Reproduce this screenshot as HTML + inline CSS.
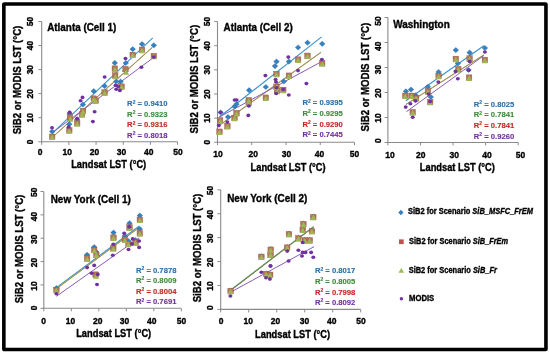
<!DOCTYPE html><html><head><meta charset="utf-8"><style>html,body{margin:0;padding:0;background:#fff;}svg{display:block;}</style></head><body>
<svg width="550" height="354" viewBox="0 0 550 354" font-family='"Liberation Sans", sans-serif'>
<defs><filter id="b" filterUnits="userSpaceOnUse" x="0" y="0" width="550" height="354"><feGaussianBlur stdDeviation="0.3"/></filter><filter id="m" filterUnits="userSpaceOnUse" x="0" y="0" width="550" height="354"><feGaussianBlur stdDeviation="0.65"/></filter></defs><rect width="550" height="354" fill="#fff"/><g filter="url(#b)">
<rect x="3.85" y="4.0" width="542.1" height="345.5" rx="0.3" fill="none" stroke="#000" stroke-width="3.6"/>
<line x1="41.70" y1="21.50" x2="41.70" y2="142.30" stroke="#8a8a8a" stroke-width="1.1"/>
<line x1="41.20" y1="141.80" x2="177.60" y2="141.80" stroke="#8a8a8a" stroke-width="1.1"/>
<line x1="38.40" y1="141.80" x2="41.70" y2="141.80" stroke="#8a8a8a" stroke-width="1.0"/>
<line x1="38.40" y1="117.74" x2="41.70" y2="117.74" stroke="#8a8a8a" stroke-width="1.0"/>
<line x1="38.40" y1="93.68" x2="41.70" y2="93.68" stroke="#8a8a8a" stroke-width="1.0"/>
<line x1="38.40" y1="69.62" x2="41.70" y2="69.62" stroke="#8a8a8a" stroke-width="1.0"/>
<line x1="38.40" y1="45.56" x2="41.70" y2="45.56" stroke="#8a8a8a" stroke-width="1.0"/>
<line x1="38.40" y1="21.50" x2="41.70" y2="21.50" stroke="#8a8a8a" stroke-width="1.0"/>
<line x1="41.70" y1="141.80" x2="41.70" y2="144.80" stroke="#8a8a8a" stroke-width="1.0"/>
<line x1="68.88" y1="141.80" x2="68.88" y2="144.80" stroke="#8a8a8a" stroke-width="1.0"/>
<line x1="96.06" y1="141.80" x2="96.06" y2="144.80" stroke="#8a8a8a" stroke-width="1.0"/>
<line x1="123.24" y1="141.80" x2="123.24" y2="144.80" stroke="#8a8a8a" stroke-width="1.0"/>
<line x1="150.42" y1="141.80" x2="150.42" y2="144.80" stroke="#8a8a8a" stroke-width="1.0"/>
<line x1="177.60" y1="141.80" x2="177.60" y2="144.80" stroke="#8a8a8a" stroke-width="1.0"/>
<text x="40.00" y="155.19" font-size="8.5" font-weight="bold" fill="#000" stroke="#000" stroke-width="0.35" text-anchor="middle" >0</text>
<text x="67.20" y="155.19" font-size="8.5" font-weight="bold" fill="#000" stroke="#000" stroke-width="0.35" text-anchor="middle" >10</text>
<text x="94.50" y="155.19" font-size="8.5" font-weight="bold" fill="#000" stroke="#000" stroke-width="0.35" text-anchor="middle" >20</text>
<text x="121.50" y="155.19" font-size="8.5" font-weight="bold" fill="#000" stroke="#000" stroke-width="0.35" text-anchor="middle" >30</text>
<text x="148.80" y="155.19" font-size="8.5" font-weight="bold" fill="#000" stroke="#000" stroke-width="0.35" text-anchor="middle" >40</text>
<text x="177.90" y="155.19" font-size="8.5" font-weight="bold" fill="#000" stroke="#000" stroke-width="0.35" text-anchor="middle" >50</text>
<text transform="translate(29.70,141.80) rotate(-90)" x="0" y="3.04" font-size="8.5" font-weight="bold" fill="#000" stroke="#000" stroke-width="0.35" text-anchor="middle">0</text>
<text transform="translate(29.70,117.74) rotate(-90)" x="0" y="3.04" font-size="8.5" font-weight="bold" fill="#000" stroke="#000" stroke-width="0.35" text-anchor="middle">10</text>
<text transform="translate(29.70,93.68) rotate(-90)" x="0" y="3.04" font-size="8.5" font-weight="bold" fill="#000" stroke="#000" stroke-width="0.35" text-anchor="middle">20</text>
<text transform="translate(29.70,69.62) rotate(-90)" x="0" y="3.04" font-size="8.5" font-weight="bold" fill="#000" stroke="#000" stroke-width="0.35" text-anchor="middle">30</text>
<text transform="translate(29.70,45.56) rotate(-90)" x="0" y="3.04" font-size="8.5" font-weight="bold" fill="#000" stroke="#000" stroke-width="0.35" text-anchor="middle">40</text>
<text transform="translate(29.70,21.50) rotate(-90)" x="0" y="3.04" font-size="8.5" font-weight="bold" fill="#000" stroke="#000" stroke-width="0.35" text-anchor="middle">50</text>
<text x="47.20" y="30.70" font-size="10.1" font-weight="bold" fill="#000" stroke="#000" stroke-width="0.35" text-anchor="start" textLength="69.2" lengthAdjust="spacingAndGlyphs" >Atlanta (Cell 1)</text>
<text x="71.20" y="168.40" font-size="10.1" font-weight="bold" fill="#000" stroke="#000" stroke-width="0.35" text-anchor="start" textLength="75" lengthAdjust="spacingAndGlyphs" >Landsat LST (°C)</text>
<text transform="translate(20.50,80.00) rotate(-90)" x="0" y="0.00" font-size="10.2" font-weight="bold" fill="#000" stroke="#000" stroke-width="0.35" text-anchor="middle" textLength="108.6" lengthAdjust="spacingAndGlyphs">SiB2 or MODIS LST (°C)</text>
<line x1="53.00" y1="132.60" x2="152.70" y2="37.90" stroke="#3894ce" stroke-width="1.15"/>
<line x1="53.00" y1="136.80" x2="152.30" y2="47.60" stroke="#b8806a" stroke-width="1.0"/>
<line x1="53.00" y1="136.60" x2="152.30" y2="47.20" stroke="#9a9f58" stroke-width="1.0"/>
<line x1="53.00" y1="132.20" x2="153.50" y2="57.50" stroke="#8a5cb4" stroke-width="1.0"/>
<g filter="url(#m)">
<path d="M52.20 129.00L55.00 131.60L52.20 134.20L49.40 131.60Z" fill="#3382c4" stroke="#1f5f95" stroke-width="0.4"/>
<path d="M69.60 110.90L72.40 113.50L69.60 116.10L66.80 113.50Z" fill="#3382c4" stroke="#1f5f95" stroke-width="0.4"/>
<path d="M69.30 121.60L72.10 124.20L69.30 126.80L66.50 124.20Z" fill="#3382c4" stroke="#1f5f95" stroke-width="0.4"/>
<path d="M77.20 116.90L80.00 119.50L77.20 122.10L74.40 119.50Z" fill="#3382c4" stroke="#1f5f95" stroke-width="0.4"/>
<path d="M82.90 102.00L85.70 104.60L82.90 107.20L80.10 104.60Z" fill="#3382c4" stroke="#1f5f95" stroke-width="0.4"/>
<path d="M93.80 88.60L96.60 91.20L93.80 93.80L91.00 91.20Z" fill="#3382c4" stroke="#1f5f95" stroke-width="0.4"/>
<path d="M104.60 83.50L107.40 86.10L104.60 88.70L101.80 86.10Z" fill="#3382c4" stroke="#1f5f95" stroke-width="0.4"/>
<path d="M114.80 60.30L117.60 62.90L114.80 65.50L112.00 62.90Z" fill="#3382c4" stroke="#1f5f95" stroke-width="0.4"/>
<path d="M116.20 78.90L119.00 81.50L116.20 84.10L113.40 81.50Z" fill="#3382c4" stroke="#1f5f95" stroke-width="0.4"/>
<path d="M120.60 79.00L123.40 81.60L120.60 84.20L117.80 81.60Z" fill="#3382c4" stroke="#1f5f95" stroke-width="0.4"/>
<path d="M125.80 60.40L128.60 63.00L125.80 65.60L123.00 63.00Z" fill="#3382c4" stroke="#1f5f95" stroke-width="0.4"/>
<path d="M132.70 46.60L135.50 49.20L132.70 51.80L129.90 49.20Z" fill="#3382c4" stroke="#1f5f95" stroke-width="0.4"/>
<path d="M142.00 41.50L144.80 44.10L142.00 46.70L139.20 44.10Z" fill="#3382c4" stroke="#1f5f95" stroke-width="0.4"/>
<path d="M153.80 42.70L156.60 45.30L153.80 47.90L151.00 45.30Z" fill="#3382c4" stroke="#1f5f95" stroke-width="0.4"/>
<rect x="49.45" y="134.05" width="5.50" height="5.50" fill="#b07656" stroke="#9a5040" stroke-width="0.4"/>
<rect x="67.15" y="114.75" width="5.50" height="5.50" fill="#b07656" stroke="#9a5040" stroke-width="0.4"/>
<rect x="66.55" y="127.65" width="5.50" height="5.50" fill="#b07656" stroke="#9a5040" stroke-width="0.4"/>
<rect x="74.45" y="120.55" width="5.50" height="5.50" fill="#b07656" stroke="#9a5040" stroke-width="0.4"/>
<rect x="80.35" y="108.25" width="5.50" height="5.50" fill="#b07656" stroke="#9a5040" stroke-width="0.4"/>
<rect x="79.25" y="111.65" width="5.50" height="5.50" fill="#b07656" stroke="#9a5040" stroke-width="0.4"/>
<rect x="91.05" y="95.85" width="5.50" height="5.50" fill="#b07656" stroke="#9a5040" stroke-width="0.4"/>
<rect x="92.95" y="97.85" width="5.50" height="5.50" fill="#b07656" stroke="#9a5040" stroke-width="0.4"/>
<rect x="101.85" y="89.75" width="5.50" height="5.50" fill="#b07656" stroke="#9a5040" stroke-width="0.4"/>
<rect x="112.05" y="65.85" width="5.50" height="5.50" fill="#b07656" stroke="#9a5040" stroke-width="0.4"/>
<rect x="112.45" y="72.75" width="5.50" height="5.50" fill="#b07656" stroke="#9a5040" stroke-width="0.4"/>
<rect x="118.85" y="83.85" width="5.50" height="5.50" fill="#b07656" stroke="#9a5040" stroke-width="0.4"/>
<rect x="122.75" y="66.35" width="5.50" height="5.50" fill="#b07656" stroke="#9a5040" stroke-width="0.4"/>
<rect x="129.95" y="52.15" width="5.50" height="5.50" fill="#b07656" stroke="#9a5040" stroke-width="0.4"/>
<rect x="139.25" y="47.05" width="5.50" height="5.50" fill="#b07656" stroke="#9a5040" stroke-width="0.4"/>
<rect x="151.05" y="53.25" width="5.50" height="5.50" fill="#b07656" stroke="#9a5040" stroke-width="0.4"/>
<path d="M52.20 134.40L55.20 140.00L49.20 140.00Z" fill="#a0b555"/>
<path d="M70.40 116.10L73.40 121.70L67.40 121.70Z" fill="#a0b555"/>
<path d="M69.30 128.00L72.30 133.60L66.30 133.60Z" fill="#a0b555"/>
<path d="M77.20 121.00L80.20 126.60L74.20 126.60Z" fill="#a0b555"/>
<path d="M83.10 108.70L86.10 114.30L80.10 114.30Z" fill="#a0b555"/>
<path d="M82.00 112.00L85.00 117.60L79.00 117.60Z" fill="#a0b555"/>
<path d="M93.80 96.50L96.80 102.10L90.80 102.10Z" fill="#a0b555"/>
<path d="M95.70 98.20L98.70 103.80L92.70 103.80Z" fill="#a0b555"/>
<path d="M104.60 90.20L107.60 95.80L101.60 95.80Z" fill="#a0b555"/>
<path d="M115.00 66.70L118.00 72.30L112.00 72.30Z" fill="#a0b555"/>
<path d="M115.50 73.70L118.50 79.30L112.50 79.30Z" fill="#a0b555"/>
<path d="M121.60 84.20L124.60 89.80L118.60 89.80Z" fill="#a0b555"/>
<path d="M126.10 69.20L129.10 74.80L123.10 74.80Z" fill="#a0b555"/>
<path d="M132.70 52.50L135.70 58.10L129.70 58.10Z" fill="#a0b555"/>
<path d="M142.00 47.70L145.00 53.30L139.00 53.30Z" fill="#a0b555"/>
<path d="M153.80 53.70L156.80 59.30L150.80 59.30Z" fill="#a0b555"/>
<ellipse cx="52.00" cy="127.70" rx="2.0" ry="1.8" fill="#7030a0"/>
<ellipse cx="69.60" cy="112.20" rx="2.0" ry="1.8" fill="#7030a0"/>
<ellipse cx="68.70" cy="127.00" rx="2.0" ry="1.8" fill="#7030a0"/>
<ellipse cx="77.20" cy="118.50" rx="2.0" ry="1.8" fill="#7030a0"/>
<ellipse cx="82.50" cy="97.40" rx="2.0" ry="1.8" fill="#7030a0"/>
<ellipse cx="80.60" cy="100.80" rx="2.0" ry="1.8" fill="#7030a0"/>
<ellipse cx="94.60" cy="111.70" rx="2.0" ry="1.8" fill="#7030a0"/>
<ellipse cx="92.90" cy="121.60" rx="2.0" ry="1.8" fill="#7030a0"/>
<ellipse cx="104.60" cy="77.00" rx="2.0" ry="1.8" fill="#7030a0"/>
<ellipse cx="115.60" cy="85.20" rx="2.0" ry="1.8" fill="#7030a0"/>
<ellipse cx="116.20" cy="89.30" rx="2.0" ry="1.8" fill="#7030a0"/>
<ellipse cx="118.20" cy="86.50" rx="2.0" ry="1.8" fill="#7030a0"/>
<ellipse cx="119.90" cy="90.40" rx="2.0" ry="1.8" fill="#7030a0"/>
<ellipse cx="125.50" cy="58.60" rx="2.0" ry="1.8" fill="#7030a0"/>
<ellipse cx="141.40" cy="67.30" rx="2.0" ry="1.8" fill="#7030a0"/>
<ellipse cx="153.80" cy="57.10" rx="2.0" ry="1.8" fill="#7030a0"/>
</g>
<text x="127.10" y="106.20" font-size="7.8" font-weight="bold" fill="#2e6fa7" stroke="#2e6fa7" stroke-width="0.12" textLength="40.4" lengthAdjust="spacingAndGlyphs">R<tspan font-size="5.0" dy="-2.7">2</tspan><tspan dy="2.7"> = 0.9410</tspan></text>
<text x="127.10" y="116.60" font-size="7.8" font-weight="bold" fill="#3f8a3c" stroke="#3f8a3c" stroke-width="0.12" textLength="40.4" lengthAdjust="spacingAndGlyphs">R<tspan font-size="5.0" dy="-2.7">2</tspan><tspan dy="2.7"> = 0.9323</tspan></text>
<text x="127.10" y="127.20" font-size="7.8" font-weight="bold" fill="#c42828" stroke="#c42828" stroke-width="0.12" textLength="40.4" lengthAdjust="spacingAndGlyphs">R<tspan font-size="5.0" dy="-2.7">2</tspan><tspan dy="2.7"> = 0.9316</tspan></text>
<text x="127.10" y="137.60" font-size="7.8" font-weight="bold" fill="#7030a0" stroke="#7030a0" stroke-width="0.12" textLength="40.4" lengthAdjust="spacingAndGlyphs">R<tspan font-size="5.0" dy="-2.7">2</tspan><tspan dy="2.7"> = 0.8018</tspan></text>
<line x1="217.50" y1="21.60" x2="217.50" y2="142.70" stroke="#8a8a8a" stroke-width="1.1"/>
<line x1="217.00" y1="142.20" x2="354.50" y2="142.20" stroke="#8a8a8a" stroke-width="1.1"/>
<line x1="214.20" y1="142.20" x2="217.50" y2="142.20" stroke="#8a8a8a" stroke-width="1.0"/>
<line x1="214.20" y1="118.08" x2="217.50" y2="118.08" stroke="#8a8a8a" stroke-width="1.0"/>
<line x1="214.20" y1="93.96" x2="217.50" y2="93.96" stroke="#8a8a8a" stroke-width="1.0"/>
<line x1="214.20" y1="69.84" x2="217.50" y2="69.84" stroke="#8a8a8a" stroke-width="1.0"/>
<line x1="214.20" y1="45.72" x2="217.50" y2="45.72" stroke="#8a8a8a" stroke-width="1.0"/>
<line x1="214.20" y1="21.60" x2="217.50" y2="21.60" stroke="#8a8a8a" stroke-width="1.0"/>
<line x1="217.50" y1="142.20" x2="217.50" y2="145.20" stroke="#8a8a8a" stroke-width="1.0"/>
<line x1="251.75" y1="142.20" x2="251.75" y2="145.20" stroke="#8a8a8a" stroke-width="1.0"/>
<line x1="286.00" y1="142.20" x2="286.00" y2="145.20" stroke="#8a8a8a" stroke-width="1.0"/>
<line x1="320.25" y1="142.20" x2="320.25" y2="145.20" stroke="#8a8a8a" stroke-width="1.0"/>
<line x1="354.50" y1="142.20" x2="354.50" y2="145.20" stroke="#8a8a8a" stroke-width="1.0"/>
<text x="218.00" y="156.64" font-size="8.5" font-weight="bold" fill="#000" stroke="#000" stroke-width="0.35" text-anchor="middle" >10</text>
<text x="253.30" y="156.64" font-size="8.5" font-weight="bold" fill="#000" stroke="#000" stroke-width="0.35" text-anchor="middle" >20</text>
<text x="286.50" y="156.64" font-size="8.5" font-weight="bold" fill="#000" stroke="#000" stroke-width="0.35" text-anchor="middle" >30</text>
<text x="319.60" y="156.64" font-size="8.5" font-weight="bold" fill="#000" stroke="#000" stroke-width="0.35" text-anchor="middle" >40</text>
<text x="354.60" y="156.64" font-size="8.5" font-weight="bold" fill="#000" stroke="#000" stroke-width="0.35" text-anchor="middle" >50</text>
<text transform="translate(207.20,142.20) rotate(-90)" x="0" y="3.04" font-size="8.5" font-weight="bold" fill="#000" stroke="#000" stroke-width="0.35" text-anchor="middle">0</text>
<text transform="translate(207.20,118.08) rotate(-90)" x="0" y="3.04" font-size="8.5" font-weight="bold" fill="#000" stroke="#000" stroke-width="0.35" text-anchor="middle">10</text>
<text transform="translate(207.20,93.96) rotate(-90)" x="0" y="3.04" font-size="8.5" font-weight="bold" fill="#000" stroke="#000" stroke-width="0.35" text-anchor="middle">20</text>
<text transform="translate(207.20,69.84) rotate(-90)" x="0" y="3.04" font-size="8.5" font-weight="bold" fill="#000" stroke="#000" stroke-width="0.35" text-anchor="middle">30</text>
<text transform="translate(207.20,45.72) rotate(-90)" x="0" y="3.04" font-size="8.5" font-weight="bold" fill="#000" stroke="#000" stroke-width="0.35" text-anchor="middle">40</text>
<text transform="translate(207.20,21.60) rotate(-90)" x="0" y="3.04" font-size="8.5" font-weight="bold" fill="#000" stroke="#000" stroke-width="0.35" text-anchor="middle">50</text>
<text x="223.60" y="31.30" font-size="10.1" font-weight="bold" fill="#000" stroke="#000" stroke-width="0.35" text-anchor="start" textLength="69.1" lengthAdjust="spacingAndGlyphs" >Atlanta (Cell 2)</text>
<text x="250.60" y="171.00" font-size="10.1" font-weight="bold" fill="#000" stroke="#000" stroke-width="0.35" text-anchor="start" textLength="75" lengthAdjust="spacingAndGlyphs" >Landsat LST (°C)</text>
<text transform="translate(197.80,79.20) rotate(-90)" x="0" y="0.00" font-size="10.2" font-weight="bold" fill="#000" stroke="#000" stroke-width="0.35" text-anchor="middle" textLength="108.6" lengthAdjust="spacingAndGlyphs">SiB2 or MODIS LST (°C)</text>
<line x1="219.50" y1="117.00" x2="321.60" y2="36.90" stroke="#3894ce" stroke-width="1.15"/>
<line x1="219.00" y1="125.80" x2="321.10" y2="52.40" stroke="#b8806a" stroke-width="1.0"/>
<line x1="219.00" y1="125.40" x2="321.10" y2="52.00" stroke="#9a9f58" stroke-width="1.0"/>
<line x1="219.00" y1="117.20" x2="320.50" y2="62.20" stroke="#8a5cb4" stroke-width="1.0"/>
<g filter="url(#m)">
<path d="M220.60 109.90L223.40 112.50L220.60 115.10L217.80 112.50Z" fill="#3382c4" stroke="#1f5f95" stroke-width="0.4"/>
<path d="M228.00 114.40L230.80 117.00L228.00 119.60L225.20 117.00Z" fill="#3382c4" stroke="#1f5f95" stroke-width="0.4"/>
<path d="M234.60 103.90L237.40 106.50L234.60 109.10L231.80 106.50Z" fill="#3382c4" stroke="#1f5f95" stroke-width="0.4"/>
<path d="M236.50 101.60L239.30 104.20L236.50 106.80L233.70 104.20Z" fill="#3382c4" stroke="#1f5f95" stroke-width="0.4"/>
<path d="M249.10 87.60L251.90 90.20L249.10 92.80L246.30 90.20Z" fill="#3382c4" stroke="#1f5f95" stroke-width="0.4"/>
<path d="M265.80 84.40L268.60 87.00L265.80 89.60L263.00 87.00Z" fill="#3382c4" stroke="#1f5f95" stroke-width="0.4"/>
<path d="M276.50 59.00L279.30 61.60L276.50 64.20L273.70 61.60Z" fill="#3382c4" stroke="#1f5f95" stroke-width="0.4"/>
<path d="M275.00 63.50L277.80 66.10L275.00 68.70L272.20 66.10Z" fill="#3382c4" stroke="#1f5f95" stroke-width="0.4"/>
<path d="M283.80 78.80L286.60 81.40L283.80 84.00L281.00 81.40Z" fill="#3382c4" stroke="#1f5f95" stroke-width="0.4"/>
<path d="M288.90 59.00L291.70 61.60L288.90 64.20L286.10 61.60Z" fill="#3382c4" stroke="#1f5f95" stroke-width="0.4"/>
<path d="M298.10 44.90L300.90 47.50L298.10 50.10L295.30 47.50Z" fill="#3382c4" stroke="#1f5f95" stroke-width="0.4"/>
<path d="M307.50 40.10L310.30 42.70L307.50 45.30L304.70 42.70Z" fill="#3382c4" stroke="#1f5f95" stroke-width="0.4"/>
<path d="M322.20 41.20L325.00 43.80L322.20 46.40L319.40 43.80Z" fill="#3382c4" stroke="#1f5f95" stroke-width="0.4"/>
<rect x="217.35" y="117.65" width="5.50" height="5.50" fill="#b07656" stroke="#9a5040" stroke-width="0.4"/>
<rect x="216.75" y="128.95" width="5.50" height="5.50" fill="#b07656" stroke="#9a5040" stroke-width="0.4"/>
<rect x="224.65" y="123.35" width="5.50" height="5.50" fill="#b07656" stroke="#9a5040" stroke-width="0.4"/>
<rect x="233.75" y="110.35" width="5.50" height="5.50" fill="#b07656" stroke="#9a5040" stroke-width="0.4"/>
<rect x="231.75" y="115.25" width="5.50" height="5.50" fill="#b07656" stroke="#9a5040" stroke-width="0.4"/>
<rect x="245.95" y="97.45" width="5.50" height="5.50" fill="#b07656" stroke="#9a5040" stroke-width="0.4"/>
<rect x="245.95" y="100.25" width="5.50" height="5.50" fill="#b07656" stroke="#9a5040" stroke-width="0.4"/>
<rect x="263.05" y="94.95" width="5.50" height="5.50" fill="#b07656" stroke="#9a5040" stroke-width="0.4"/>
<rect x="273.75" y="71.25" width="5.50" height="5.50" fill="#b07656" stroke="#9a5040" stroke-width="0.4"/>
<rect x="273.75" y="84.05" width="5.50" height="5.50" fill="#b07656" stroke="#9a5040" stroke-width="0.4"/>
<rect x="274.25" y="88.25" width="5.50" height="5.50" fill="#b07656" stroke="#9a5040" stroke-width="0.4"/>
<rect x="280.55" y="87.15" width="5.50" height="5.50" fill="#b07656" stroke="#9a5040" stroke-width="0.4"/>
<rect x="286.15" y="72.95" width="5.50" height="5.50" fill="#b07656" stroke="#9a5040" stroke-width="0.4"/>
<rect x="295.35" y="56.85" width="5.50" height="5.50" fill="#b07656" stroke="#9a5040" stroke-width="0.4"/>
<rect x="304.75" y="53.05" width="5.50" height="5.50" fill="#b07656" stroke="#9a5040" stroke-width="0.4"/>
<rect x="319.45" y="60.55" width="5.50" height="5.50" fill="#b07656" stroke="#9a5040" stroke-width="0.4"/>
<path d="M220.60 118.40L223.60 124.00L217.60 124.00Z" fill="#a0b555"/>
<path d="M219.50 129.40L222.50 135.00L216.50 135.00Z" fill="#a0b555"/>
<path d="M227.40 123.80L230.40 129.40L224.40 129.40Z" fill="#a0b555"/>
<path d="M236.50 110.80L239.50 116.40L233.50 116.40Z" fill="#a0b555"/>
<path d="M234.50 115.70L237.50 121.30L231.50 121.30Z" fill="#a0b555"/>
<path d="M248.70 97.90L251.70 103.50L245.70 103.50Z" fill="#a0b555"/>
<path d="M248.70 100.70L251.70 106.30L245.70 106.30Z" fill="#a0b555"/>
<path d="M265.80 95.40L268.80 101.00L262.80 101.00Z" fill="#a0b555"/>
<path d="M276.50 71.70L279.50 77.30L273.50 77.30Z" fill="#a0b555"/>
<path d="M276.50 84.50L279.50 90.10L273.50 90.10Z" fill="#a0b555"/>
<path d="M277.00 88.70L280.00 94.30L274.00 94.30Z" fill="#a0b555"/>
<path d="M283.30 87.60L286.30 93.20L280.30 93.20Z" fill="#a0b555"/>
<path d="M288.90 73.40L291.90 79.00L285.90 79.00Z" fill="#a0b555"/>
<path d="M298.10 57.30L301.10 62.90L295.10 62.90Z" fill="#a0b555"/>
<path d="M307.50 53.50L310.50 59.10L304.50 59.10Z" fill="#a0b555"/>
<path d="M322.20 61.00L325.20 66.60L319.20 66.60Z" fill="#a0b555"/>
<ellipse cx="220.60" cy="112.20" rx="2.0" ry="1.8" fill="#7030a0"/>
<ellipse cx="218.80" cy="125.60" rx="2.0" ry="1.8" fill="#7030a0"/>
<ellipse cx="227.40" cy="122.10" rx="2.0" ry="1.8" fill="#7030a0"/>
<ellipse cx="234.60" cy="100.00" rx="2.0" ry="1.8" fill="#7030a0"/>
<ellipse cx="236.60" cy="100.00" rx="2.0" ry="1.8" fill="#7030a0"/>
<ellipse cx="248.90" cy="106.00" rx="2.0" ry="1.8" fill="#7030a0"/>
<ellipse cx="248.30" cy="115.40" rx="2.0" ry="1.8" fill="#7030a0"/>
<ellipse cx="265.40" cy="75.60" rx="2.0" ry="1.8" fill="#7030a0"/>
<ellipse cx="275.60" cy="79.60" rx="2.0" ry="1.8" fill="#7030a0"/>
<ellipse cx="276.00" cy="82.00" rx="2.0" ry="1.8" fill="#7030a0"/>
<ellipse cx="276.50" cy="87.80" rx="2.0" ry="1.8" fill="#7030a0"/>
<ellipse cx="276.20" cy="93.50" rx="2.0" ry="1.8" fill="#7030a0"/>
<ellipse cx="283.30" cy="89.60" rx="2.0" ry="1.8" fill="#7030a0"/>
<ellipse cx="288.80" cy="95.00" rx="2.0" ry="1.8" fill="#7030a0"/>
<ellipse cx="288.30" cy="57.10" rx="2.0" ry="1.8" fill="#7030a0"/>
<ellipse cx="298.00" cy="70.60" rx="2.0" ry="1.8" fill="#7030a0"/>
<ellipse cx="306.40" cy="83.60" rx="2.0" ry="1.8" fill="#7030a0"/>
<ellipse cx="321.90" cy="59.60" rx="2.0" ry="1.8" fill="#7030a0"/>
</g>
<text x="302.40" y="105.40" font-size="7.8" font-weight="bold" fill="#2e6fa7" stroke="#2e6fa7" stroke-width="0.12" textLength="40.4" lengthAdjust="spacingAndGlyphs">R<tspan font-size="5.0" dy="-2.7">2</tspan><tspan dy="2.7"> = 0.9395</tspan></text>
<text x="302.40" y="116.00" font-size="7.8" font-weight="bold" fill="#3f8a3c" stroke="#3f8a3c" stroke-width="0.12" textLength="40.4" lengthAdjust="spacingAndGlyphs">R<tspan font-size="5.0" dy="-2.7">2</tspan><tspan dy="2.7"> = 0.9295</tspan></text>
<text x="302.40" y="126.80" font-size="7.8" font-weight="bold" fill="#c42828" stroke="#c42828" stroke-width="0.12" textLength="40.4" lengthAdjust="spacingAndGlyphs">R<tspan font-size="5.0" dy="-2.7">2</tspan><tspan dy="2.7"> = 0.9290</tspan></text>
<text x="302.40" y="137.30" font-size="7.8" font-weight="bold" fill="#7030a0" stroke="#7030a0" stroke-width="0.12" textLength="40.4" lengthAdjust="spacingAndGlyphs">R<tspan font-size="5.0" dy="-2.7">2</tspan><tspan dy="2.7"> = 0.7445</tspan></text>
<line x1="387.90" y1="17.50" x2="387.90" y2="143.00" stroke="#8a8a8a" stroke-width="1.1"/>
<line x1="387.40" y1="142.50" x2="518.20" y2="142.50" stroke="#8a8a8a" stroke-width="1.1"/>
<line x1="384.60" y1="142.50" x2="387.90" y2="142.50" stroke="#8a8a8a" stroke-width="1.0"/>
<line x1="384.60" y1="117.50" x2="387.90" y2="117.50" stroke="#8a8a8a" stroke-width="1.0"/>
<line x1="384.60" y1="92.50" x2="387.90" y2="92.50" stroke="#8a8a8a" stroke-width="1.0"/>
<line x1="384.60" y1="67.50" x2="387.90" y2="67.50" stroke="#8a8a8a" stroke-width="1.0"/>
<line x1="384.60" y1="42.50" x2="387.90" y2="42.50" stroke="#8a8a8a" stroke-width="1.0"/>
<line x1="384.60" y1="17.50" x2="387.90" y2="17.50" stroke="#8a8a8a" stroke-width="1.0"/>
<line x1="387.90" y1="142.50" x2="387.90" y2="145.50" stroke="#8a8a8a" stroke-width="1.0"/>
<line x1="420.48" y1="142.50" x2="420.48" y2="145.50" stroke="#8a8a8a" stroke-width="1.0"/>
<line x1="453.05" y1="142.50" x2="453.05" y2="145.50" stroke="#8a8a8a" stroke-width="1.0"/>
<line x1="485.62" y1="142.50" x2="485.62" y2="145.50" stroke="#8a8a8a" stroke-width="1.0"/>
<line x1="518.20" y1="142.50" x2="518.20" y2="145.50" stroke="#8a8a8a" stroke-width="1.0"/>
<text x="389.90" y="158.24" font-size="8.5" font-weight="bold" fill="#000" stroke="#000" stroke-width="0.35" text-anchor="middle" >10</text>
<text x="420.80" y="158.24" font-size="8.5" font-weight="bold" fill="#000" stroke="#000" stroke-width="0.35" text-anchor="middle" >20</text>
<text x="454.20" y="158.24" font-size="8.5" font-weight="bold" fill="#000" stroke="#000" stroke-width="0.35" text-anchor="middle" >30</text>
<text x="486.90" y="158.24" font-size="8.5" font-weight="bold" fill="#000" stroke="#000" stroke-width="0.35" text-anchor="middle" >40</text>
<text x="520.40" y="158.24" font-size="8.5" font-weight="bold" fill="#000" stroke="#000" stroke-width="0.35" text-anchor="middle" >50</text>
<text transform="translate(378.40,140.60) rotate(-90)" x="0" y="3.04" font-size="8.5" font-weight="bold" fill="#000" stroke="#000" stroke-width="0.35" text-anchor="middle">0</text>
<text transform="translate(378.40,118.00) rotate(-90)" x="0" y="3.04" font-size="8.5" font-weight="bold" fill="#000" stroke="#000" stroke-width="0.35" text-anchor="middle">10</text>
<text transform="translate(378.40,93.00) rotate(-90)" x="0" y="3.04" font-size="8.5" font-weight="bold" fill="#000" stroke="#000" stroke-width="0.35" text-anchor="middle">20</text>
<text transform="translate(378.40,69.60) rotate(-90)" x="0" y="3.04" font-size="8.5" font-weight="bold" fill="#000" stroke="#000" stroke-width="0.35" text-anchor="middle">30</text>
<text transform="translate(378.40,46.20) rotate(-90)" x="0" y="3.04" font-size="8.5" font-weight="bold" fill="#000" stroke="#000" stroke-width="0.35" text-anchor="middle">40</text>
<text transform="translate(378.40,21.10) rotate(-90)" x="0" y="3.04" font-size="8.5" font-weight="bold" fill="#000" stroke="#000" stroke-width="0.35" text-anchor="middle">50</text>
<text x="393.20" y="27.60" font-size="10.1" font-weight="bold" fill="#000" stroke="#000" stroke-width="0.35" text-anchor="start" textLength="56.6" lengthAdjust="spacingAndGlyphs" >Washington</text>
<text x="419.80" y="171.40" font-size="10.1" font-weight="bold" fill="#000" stroke="#000" stroke-width="0.35" text-anchor="start" textLength="75" lengthAdjust="spacingAndGlyphs" >Landsat LST (°C)</text>
<text transform="translate(369.00,77.10) rotate(-90)" x="0" y="0.00" font-size="10.2" font-weight="bold" fill="#000" stroke="#000" stroke-width="0.35" text-anchor="middle" textLength="108.6" lengthAdjust="spacingAndGlyphs">SiB2 or MODIS LST (°C)</text>
<line x1="405.90" y1="100.80" x2="483.80" y2="45.70" stroke="#3894ce" stroke-width="1.15"/>
<line x1="405.90" y1="104.60" x2="483.80" y2="55.20" stroke="#b8806a" stroke-width="1.0"/>
<line x1="405.90" y1="104.30" x2="483.80" y2="54.80" stroke="#9a9f58" stroke-width="1.0"/>
<line x1="406.40" y1="111.70" x2="483.80" y2="55.60" stroke="#8a5cb4" stroke-width="1.0"/>
<g filter="url(#m)">
<path d="M405.90 88.70L408.70 91.30L405.90 93.90L403.10 91.30Z" fill="#3382c4" stroke="#1f5f95" stroke-width="0.4"/>
<path d="M411.00 87.00L413.80 89.60L411.00 92.20L408.20 89.60Z" fill="#3382c4" stroke="#1f5f95" stroke-width="0.4"/>
<path d="M415.50 92.70L418.30 95.30L415.50 97.90L412.70 95.30Z" fill="#3382c4" stroke="#1f5f95" stroke-width="0.4"/>
<path d="M427.90 84.20L430.70 86.80L427.90 89.40L425.10 86.80Z" fill="#3382c4" stroke="#1f5f95" stroke-width="0.4"/>
<path d="M430.80 94.40L433.60 97.00L430.80 99.60L428.00 97.00Z" fill="#3382c4" stroke="#1f5f95" stroke-width="0.4"/>
<path d="M438.60 69.40L441.40 72.00L438.60 74.60L435.80 72.00Z" fill="#3382c4" stroke="#1f5f95" stroke-width="0.4"/>
<path d="M455.80 47.50L458.60 50.10L455.80 52.70L453.00 50.10Z" fill="#3382c4" stroke="#1f5f95" stroke-width="0.4"/>
<path d="M457.80 60.90L460.60 63.50L457.80 66.10L455.00 63.50Z" fill="#3382c4" stroke="#1f5f95" stroke-width="0.4"/>
<path d="M469.60 50.00L472.40 52.60L469.60 55.20L466.80 52.60Z" fill="#3382c4" stroke="#1f5f95" stroke-width="0.4"/>
<path d="M468.60 67.40L471.40 70.00L468.60 72.60L465.80 70.00Z" fill="#3382c4" stroke="#1f5f95" stroke-width="0.4"/>
<path d="M484.90 45.40L487.70 48.00L484.90 50.60L482.10 48.00Z" fill="#3382c4" stroke="#1f5f95" stroke-width="0.4"/>
<rect x="402.55" y="93.05" width="5.50" height="5.50" fill="#b07656" stroke="#9a5040" stroke-width="0.4"/>
<rect x="408.85" y="93.05" width="5.50" height="5.50" fill="#b07656" stroke="#9a5040" stroke-width="0.4"/>
<rect x="413.35" y="95.35" width="5.50" height="5.50" fill="#b07656" stroke="#9a5040" stroke-width="0.4"/>
<rect x="409.95" y="109.45" width="5.50" height="5.50" fill="#b07656" stroke="#9a5040" stroke-width="0.4"/>
<rect x="425.15" y="88.55" width="5.50" height="5.50" fill="#b07656" stroke="#9a5040" stroke-width="0.4"/>
<rect x="427.45" y="99.25" width="5.50" height="5.50" fill="#b07656" stroke="#9a5040" stroke-width="0.4"/>
<rect x="435.85" y="73.15" width="5.50" height="5.50" fill="#b07656" stroke="#9a5040" stroke-width="0.4"/>
<rect x="453.05" y="56.15" width="5.50" height="5.50" fill="#b07656" stroke="#9a5040" stroke-width="0.4"/>
<rect x="455.55" y="66.35" width="5.50" height="5.50" fill="#b07656" stroke="#9a5040" stroke-width="0.4"/>
<rect x="466.85" y="55.75" width="5.50" height="5.50" fill="#b07656" stroke="#9a5040" stroke-width="0.4"/>
<rect x="466.35" y="74.85" width="5.50" height="5.50" fill="#b07656" stroke="#9a5040" stroke-width="0.4"/>
<rect x="482.15" y="57.15" width="5.50" height="5.50" fill="#b07656" stroke="#9a5040" stroke-width="0.4"/>
<path d="M405.30 93.50L408.30 99.10L402.30 99.10Z" fill="#a0b555"/>
<path d="M411.60 93.50L414.60 99.10L408.60 99.10Z" fill="#a0b555"/>
<path d="M416.10 95.80L419.10 101.40L413.10 101.40Z" fill="#a0b555"/>
<path d="M412.70 109.90L415.70 115.50L409.70 115.50Z" fill="#a0b555"/>
<path d="M427.90 89.00L430.90 94.60L424.90 94.60Z" fill="#a0b555"/>
<path d="M430.20 99.70L433.20 105.30L427.20 105.30Z" fill="#a0b555"/>
<path d="M438.60 73.60L441.60 79.20L435.60 79.20Z" fill="#a0b555"/>
<path d="M455.80 56.60L458.80 62.20L452.80 62.20Z" fill="#a0b555"/>
<path d="M458.30 66.80L461.30 72.40L455.30 72.40Z" fill="#a0b555"/>
<path d="M469.60 56.20L472.60 61.80L466.60 61.80Z" fill="#a0b555"/>
<path d="M469.10 75.30L472.10 80.90L466.10 80.90Z" fill="#a0b555"/>
<path d="M484.90 57.60L487.90 63.20L481.90 63.20Z" fill="#a0b555"/>
<ellipse cx="415.50" cy="100.90" rx="2.0" ry="1.8" fill="#7030a0"/>
<ellipse cx="410.40" cy="103.70" rx="2.0" ry="1.8" fill="#7030a0"/>
<ellipse cx="405.70" cy="107.10" rx="2.0" ry="1.8" fill="#7030a0"/>
<ellipse cx="412.70" cy="117.30" rx="2.0" ry="1.8" fill="#7030a0"/>
<ellipse cx="428.50" cy="94.10" rx="2.0" ry="1.8" fill="#7030a0"/>
<ellipse cx="430.20" cy="101.50" rx="2.0" ry="1.8" fill="#7030a0"/>
<ellipse cx="438.30" cy="82.10" rx="2.0" ry="1.8" fill="#7030a0"/>
<ellipse cx="455.50" cy="71.40" rx="2.0" ry="1.8" fill="#7030a0"/>
<ellipse cx="457.80" cy="78.70" rx="2.0" ry="1.8" fill="#7030a0"/>
<ellipse cx="469.60" cy="61.40" rx="2.0" ry="1.8" fill="#7030a0"/>
<ellipse cx="468.60" cy="70.30" rx="2.0" ry="1.8" fill="#7030a0"/>
<ellipse cx="484.90" cy="52.00" rx="2.0" ry="1.8" fill="#7030a0"/>
</g>
<text x="473.80" y="106.60" font-size="7.8" font-weight="bold" fill="#2e6fa7" stroke="#2e6fa7" stroke-width="0.12" textLength="40.4" lengthAdjust="spacingAndGlyphs">R<tspan font-size="5.0" dy="-2.7">2</tspan><tspan dy="2.7"> = 0.8025</tspan></text>
<text x="473.80" y="117.20" font-size="7.8" font-weight="bold" fill="#3f8a3c" stroke="#3f8a3c" stroke-width="0.12" textLength="40.4" lengthAdjust="spacingAndGlyphs">R<tspan font-size="5.0" dy="-2.7">2</tspan><tspan dy="2.7"> = 0.7841</tspan></text>
<text x="473.80" y="128.00" font-size="7.8" font-weight="bold" fill="#c42828" stroke="#c42828" stroke-width="0.12" textLength="40.4" lengthAdjust="spacingAndGlyphs">R<tspan font-size="5.0" dy="-2.7">2</tspan><tspan dy="2.7"> = 0.7841</tspan></text>
<text x="473.80" y="138.50" font-size="7.8" font-weight="bold" fill="#7030a0" stroke="#7030a0" stroke-width="0.12" textLength="40.4" lengthAdjust="spacingAndGlyphs">R<tspan font-size="5.0" dy="-2.7">2</tspan><tspan dy="2.7"> = 0.9260</tspan></text>
<line x1="43.80" y1="191.50" x2="43.80" y2="308.80" stroke="#8a8a8a" stroke-width="1.1"/>
<line x1="43.30" y1="308.30" x2="181.30" y2="308.30" stroke="#8a8a8a" stroke-width="1.1"/>
<line x1="40.50" y1="308.30" x2="43.80" y2="308.30" stroke="#8a8a8a" stroke-width="1.0"/>
<line x1="40.50" y1="284.94" x2="43.80" y2="284.94" stroke="#8a8a8a" stroke-width="1.0"/>
<line x1="40.50" y1="261.58" x2="43.80" y2="261.58" stroke="#8a8a8a" stroke-width="1.0"/>
<line x1="40.50" y1="238.22" x2="43.80" y2="238.22" stroke="#8a8a8a" stroke-width="1.0"/>
<line x1="40.50" y1="214.86" x2="43.80" y2="214.86" stroke="#8a8a8a" stroke-width="1.0"/>
<line x1="40.50" y1="191.50" x2="43.80" y2="191.50" stroke="#8a8a8a" stroke-width="1.0"/>
<line x1="43.80" y1="308.30" x2="43.80" y2="311.30" stroke="#8a8a8a" stroke-width="1.0"/>
<line x1="71.30" y1="308.30" x2="71.30" y2="311.30" stroke="#8a8a8a" stroke-width="1.0"/>
<line x1="98.80" y1="308.30" x2="98.80" y2="311.30" stroke="#8a8a8a" stroke-width="1.0"/>
<line x1="126.30" y1="308.30" x2="126.30" y2="311.30" stroke="#8a8a8a" stroke-width="1.0"/>
<line x1="153.80" y1="308.30" x2="153.80" y2="311.30" stroke="#8a8a8a" stroke-width="1.0"/>
<line x1="181.30" y1="308.30" x2="181.30" y2="311.30" stroke="#8a8a8a" stroke-width="1.0"/>
<text x="43.60" y="323.64" font-size="8.5" font-weight="bold" fill="#000" stroke="#000" stroke-width="0.35" text-anchor="middle" >0</text>
<text x="70.60" y="323.64" font-size="8.5" font-weight="bold" fill="#000" stroke="#000" stroke-width="0.35" text-anchor="middle" >10</text>
<text x="97.80" y="323.64" font-size="8.5" font-weight="bold" fill="#000" stroke="#000" stroke-width="0.35" text-anchor="middle" >20</text>
<text x="124.60" y="323.64" font-size="8.5" font-weight="bold" fill="#000" stroke="#000" stroke-width="0.35" text-anchor="middle" >30</text>
<text x="151.80" y="323.64" font-size="8.5" font-weight="bold" fill="#000" stroke="#000" stroke-width="0.35" text-anchor="middle" >40</text>
<text x="181.40" y="323.64" font-size="8.5" font-weight="bold" fill="#000" stroke="#000" stroke-width="0.35" text-anchor="middle" >50</text>
<text transform="translate(33.80,307.90) rotate(-90)" x="0" y="3.04" font-size="8.5" font-weight="bold" fill="#000" stroke="#000" stroke-width="0.35" text-anchor="middle">0</text>
<text transform="translate(33.80,285.90) rotate(-90)" x="0" y="3.04" font-size="8.5" font-weight="bold" fill="#000" stroke="#000" stroke-width="0.35" text-anchor="middle">10</text>
<text transform="translate(33.80,262.60) rotate(-90)" x="0" y="3.04" font-size="8.5" font-weight="bold" fill="#000" stroke="#000" stroke-width="0.35" text-anchor="middle">20</text>
<text transform="translate(33.80,239.20) rotate(-90)" x="0" y="3.04" font-size="8.5" font-weight="bold" fill="#000" stroke="#000" stroke-width="0.35" text-anchor="middle">30</text>
<text transform="translate(33.80,216.60) rotate(-90)" x="0" y="3.04" font-size="8.5" font-weight="bold" fill="#000" stroke="#000" stroke-width="0.35" text-anchor="middle">40</text>
<text transform="translate(33.80,192.20) rotate(-90)" x="0" y="3.04" font-size="8.5" font-weight="bold" fill="#000" stroke="#000" stroke-width="0.35" text-anchor="middle">50</text>
<text x="50.70" y="202.50" font-size="10.1" font-weight="bold" fill="#000" stroke="#000" stroke-width="0.35" text-anchor="start" textLength="80.2" lengthAdjust="spacingAndGlyphs" >New York (Cell 1)</text>
<text x="76.20" y="337.20" font-size="10.1" font-weight="bold" fill="#000" stroke="#000" stroke-width="0.35" text-anchor="start" textLength="75" lengthAdjust="spacingAndGlyphs" >Landsat LST (°C)</text>
<text transform="translate(23.00,249.00) rotate(-90)" x="0" y="0.00" font-size="10.2" font-weight="bold" fill="#000" stroke="#000" stroke-width="0.35" text-anchor="middle" textLength="108.6" lengthAdjust="spacingAndGlyphs">SiB2 or MODIS LST (°C)</text>
<line x1="56.40" y1="287.60" x2="139.30" y2="226.00" stroke="#3894ce" stroke-width="1.15"/>
<line x1="56.40" y1="288.90" x2="139.30" y2="227.60" stroke="#b8806a" stroke-width="1.0"/>
<line x1="56.40" y1="288.60" x2="139.30" y2="227.20" stroke="#9a9f58" stroke-width="1.0"/>
<line x1="56.40" y1="296.30" x2="139.30" y2="237.80" stroke="#8a5cb4" stroke-width="1.0"/>
<g filter="url(#m)">
<path d="M56.40 285.40L59.20 288.00L56.40 290.60L53.60 288.00Z" fill="#3382c4" stroke="#1f5f95" stroke-width="0.4"/>
<path d="M87.10 252.20L89.90 254.80L87.10 257.40L84.30 254.80Z" fill="#3382c4" stroke="#1f5f95" stroke-width="0.4"/>
<path d="M94.20 244.50L97.00 247.10L94.20 249.70L91.40 247.10Z" fill="#3382c4" stroke="#1f5f95" stroke-width="0.4"/>
<path d="M96.30 249.40L99.10 252.00L96.30 254.60L93.50 252.00Z" fill="#3382c4" stroke="#1f5f95" stroke-width="0.4"/>
<path d="M95.60 272.40L98.40 275.00L95.60 277.60L92.80 275.00Z" fill="#3382c4" stroke="#1f5f95" stroke-width="0.4"/>
<path d="M113.50 230.00L116.30 232.60L113.50 235.20L110.70 232.60Z" fill="#3382c4" stroke="#1f5f95" stroke-width="0.4"/>
<path d="M113.30 245.40L116.10 248.00L113.30 250.60L110.50 248.00Z" fill="#3382c4" stroke="#1f5f95" stroke-width="0.4"/>
<path d="M129.50 220.60L132.30 223.20L129.50 225.80L126.70 223.20Z" fill="#3382c4" stroke="#1f5f95" stroke-width="0.4"/>
<path d="M124.80 233.40L127.60 236.00L124.80 238.60L122.00 236.00Z" fill="#3382c4" stroke="#1f5f95" stroke-width="0.4"/>
<path d="M128.40 238.40L131.20 241.00L128.40 243.60L125.60 241.00Z" fill="#3382c4" stroke="#1f5f95" stroke-width="0.4"/>
<path d="M135.50 237.40L138.30 240.00L135.50 242.60L132.70 240.00Z" fill="#3382c4" stroke="#1f5f95" stroke-width="0.4"/>
<path d="M139.80 213.00L142.60 215.60L139.80 218.20L137.00 215.60Z" fill="#3382c4" stroke="#1f5f95" stroke-width="0.4"/>
<path d="M139.80 226.40L142.60 229.00L139.80 231.60L137.00 229.00Z" fill="#3382c4" stroke="#1f5f95" stroke-width="0.4"/>
<rect x="53.65" y="287.25" width="5.50" height="5.50" fill="#b07656" stroke="#9a5040" stroke-width="0.4"/>
<rect x="84.35" y="255.65" width="5.50" height="5.50" fill="#b07656" stroke="#9a5040" stroke-width="0.4"/>
<rect x="91.45" y="247.25" width="5.50" height="5.50" fill="#b07656" stroke="#9a5040" stroke-width="0.4"/>
<rect x="93.55" y="252.05" width="5.50" height="5.50" fill="#b07656" stroke="#9a5040" stroke-width="0.4"/>
<rect x="92.85" y="271.85" width="5.50" height="5.50" fill="#b07656" stroke="#9a5040" stroke-width="0.4"/>
<rect x="110.75" y="234.85" width="5.50" height="5.50" fill="#b07656" stroke="#9a5040" stroke-width="0.4"/>
<rect x="110.55" y="245.55" width="5.50" height="5.50" fill="#b07656" stroke="#9a5040" stroke-width="0.4"/>
<rect x="126.75" y="224.75" width="5.50" height="5.50" fill="#b07656" stroke="#9a5040" stroke-width="0.4"/>
<rect x="122.05" y="236.95" width="5.50" height="5.50" fill="#b07656" stroke="#9a5040" stroke-width="0.4"/>
<rect x="125.65" y="241.15" width="5.50" height="5.50" fill="#b07656" stroke="#9a5040" stroke-width="0.4"/>
<rect x="132.75" y="239.75" width="5.50" height="5.50" fill="#b07656" stroke="#9a5040" stroke-width="0.4"/>
<rect x="137.05" y="217.05" width="5.50" height="5.50" fill="#b07656" stroke="#9a5040" stroke-width="0.4"/>
<rect x="137.05" y="230.55" width="5.50" height="5.50" fill="#b07656" stroke="#9a5040" stroke-width="0.4"/>
<path d="M56.40 287.70L59.40 293.30L53.40 293.30Z" fill="#a0b555"/>
<path d="M87.10 256.10L90.10 261.70L84.10 261.70Z" fill="#a0b555"/>
<path d="M94.20 247.70L97.20 253.30L91.20 253.30Z" fill="#a0b555"/>
<path d="M96.30 252.50L99.30 258.10L93.30 258.10Z" fill="#a0b555"/>
<path d="M96.00 273.20L99.00 278.80L93.00 278.80Z" fill="#a0b555"/>
<path d="M113.50 235.30L116.50 240.90L110.50 240.90Z" fill="#a0b555"/>
<path d="M113.30 246.00L116.30 251.60L110.30 251.60Z" fill="#a0b555"/>
<path d="M129.50 225.20L132.50 230.80L126.50 230.80Z" fill="#a0b555"/>
<path d="M124.80 237.40L127.80 243.00L121.80 243.00Z" fill="#a0b555"/>
<path d="M128.40 241.60L131.40 247.20L125.40 247.20Z" fill="#a0b555"/>
<path d="M135.50 240.20L138.50 245.80L132.50 245.80Z" fill="#a0b555"/>
<path d="M139.80 217.50L142.80 223.10L136.80 223.10Z" fill="#a0b555"/>
<path d="M139.80 231.00L142.80 236.60L136.80 236.60Z" fill="#a0b555"/>
<ellipse cx="56.40" cy="293.70" rx="2.0" ry="1.8" fill="#7030a0"/>
<ellipse cx="87.10" cy="267.60" rx="2.0" ry="1.8" fill="#7030a0"/>
<ellipse cx="94.20" cy="265.40" rx="2.0" ry="1.8" fill="#7030a0"/>
<ellipse cx="91.60" cy="273.20" rx="2.0" ry="1.8" fill="#7030a0"/>
<ellipse cx="97.70" cy="274.40" rx="2.0" ry="1.8" fill="#7030a0"/>
<ellipse cx="97.00" cy="284.50" rx="2.0" ry="1.8" fill="#7030a0"/>
<ellipse cx="113.30" cy="244.20" rx="2.0" ry="1.8" fill="#7030a0"/>
<ellipse cx="112.80" cy="255.20" rx="2.0" ry="1.8" fill="#7030a0"/>
<ellipse cx="129.20" cy="226.90" rx="2.0" ry="1.8" fill="#7030a0"/>
<ellipse cx="124.20" cy="233.30" rx="2.0" ry="1.8" fill="#7030a0"/>
<ellipse cx="128.50" cy="249.50" rx="2.0" ry="1.8" fill="#7030a0"/>
<ellipse cx="132.70" cy="238.90" rx="2.0" ry="1.8" fill="#7030a0"/>
<ellipse cx="132.00" cy="243.90" rx="2.0" ry="1.8" fill="#7030a0"/>
<ellipse cx="139.10" cy="241.00" rx="2.0" ry="1.8" fill="#7030a0"/>
<ellipse cx="139.10" cy="247.40" rx="2.0" ry="1.8" fill="#7030a0"/>
</g>
<text x="136.00" y="272.60" font-size="7.8" font-weight="bold" fill="#2e6fa7" stroke="#2e6fa7" stroke-width="0.12" textLength="40.4" lengthAdjust="spacingAndGlyphs">R<tspan font-size="5.0" dy="-2.7">2</tspan><tspan dy="2.7"> = 0.7878</tspan></text>
<text x="136.00" y="283.00" font-size="7.8" font-weight="bold" fill="#3f8a3c" stroke="#3f8a3c" stroke-width="0.12" textLength="40.4" lengthAdjust="spacingAndGlyphs">R<tspan font-size="5.0" dy="-2.7">2</tspan><tspan dy="2.7"> = 0.8009</tspan></text>
<text x="136.00" y="293.80" font-size="7.8" font-weight="bold" fill="#c42828" stroke="#c42828" stroke-width="0.12" textLength="40.4" lengthAdjust="spacingAndGlyphs">R<tspan font-size="5.0" dy="-2.7">2</tspan><tspan dy="2.7"> = 0.8004</tspan></text>
<text x="136.00" y="304.40" font-size="7.8" font-weight="bold" fill="#7030a0" stroke="#7030a0" stroke-width="0.12" textLength="40.4" lengthAdjust="spacingAndGlyphs">R<tspan font-size="5.0" dy="-2.7">2</tspan><tspan dy="2.7"> = 0.7691</tspan></text>
<line x1="220.70" y1="189.80" x2="220.70" y2="309.90" stroke="#8a8a8a" stroke-width="1.1"/>
<line x1="220.20" y1="309.40" x2="360.70" y2="309.40" stroke="#8a8a8a" stroke-width="1.1"/>
<line x1="217.40" y1="309.40" x2="220.70" y2="309.40" stroke="#8a8a8a" stroke-width="1.0"/>
<line x1="217.40" y1="285.48" x2="220.70" y2="285.48" stroke="#8a8a8a" stroke-width="1.0"/>
<line x1="217.40" y1="261.56" x2="220.70" y2="261.56" stroke="#8a8a8a" stroke-width="1.0"/>
<line x1="217.40" y1="237.64" x2="220.70" y2="237.64" stroke="#8a8a8a" stroke-width="1.0"/>
<line x1="217.40" y1="213.72" x2="220.70" y2="213.72" stroke="#8a8a8a" stroke-width="1.0"/>
<line x1="217.40" y1="189.80" x2="220.70" y2="189.80" stroke="#8a8a8a" stroke-width="1.0"/>
<line x1="220.70" y1="309.40" x2="220.70" y2="312.40" stroke="#8a8a8a" stroke-width="1.0"/>
<line x1="248.70" y1="309.40" x2="248.70" y2="312.40" stroke="#8a8a8a" stroke-width="1.0"/>
<line x1="276.70" y1="309.40" x2="276.70" y2="312.40" stroke="#8a8a8a" stroke-width="1.0"/>
<line x1="304.70" y1="309.40" x2="304.70" y2="312.40" stroke="#8a8a8a" stroke-width="1.0"/>
<line x1="332.70" y1="309.40" x2="332.70" y2="312.40" stroke="#8a8a8a" stroke-width="1.0"/>
<line x1="360.70" y1="309.40" x2="360.70" y2="312.40" stroke="#8a8a8a" stroke-width="1.0"/>
<text x="221.20" y="324.04" font-size="8.5" font-weight="bold" fill="#000" stroke="#000" stroke-width="0.35" text-anchor="middle" >0</text>
<text x="248.30" y="324.04" font-size="8.5" font-weight="bold" fill="#000" stroke="#000" stroke-width="0.35" text-anchor="middle" >10</text>
<text x="275.40" y="324.04" font-size="8.5" font-weight="bold" fill="#000" stroke="#000" stroke-width="0.35" text-anchor="middle" >20</text>
<text x="304.60" y="324.04" font-size="8.5" font-weight="bold" fill="#000" stroke="#000" stroke-width="0.35" text-anchor="middle" >30</text>
<text x="331.70" y="324.04" font-size="8.5" font-weight="bold" fill="#000" stroke="#000" stroke-width="0.35" text-anchor="middle" >40</text>
<text x="361.10" y="324.04" font-size="8.5" font-weight="bold" fill="#000" stroke="#000" stroke-width="0.35" text-anchor="middle" >50</text>
<text transform="translate(210.40,307.70) rotate(-90)" x="0" y="3.04" font-size="8.5" font-weight="bold" fill="#000" stroke="#000" stroke-width="0.35" text-anchor="middle">0</text>
<text transform="translate(210.40,285.90) rotate(-90)" x="0" y="3.04" font-size="8.5" font-weight="bold" fill="#000" stroke="#000" stroke-width="0.35" text-anchor="middle">10</text>
<text transform="translate(210.40,262.20) rotate(-90)" x="0" y="3.04" font-size="8.5" font-weight="bold" fill="#000" stroke="#000" stroke-width="0.35" text-anchor="middle">20</text>
<text transform="translate(210.40,238.30) rotate(-90)" x="0" y="3.04" font-size="8.5" font-weight="bold" fill="#000" stroke="#000" stroke-width="0.35" text-anchor="middle">30</text>
<text transform="translate(210.40,214.50) rotate(-90)" x="0" y="3.04" font-size="8.5" font-weight="bold" fill="#000" stroke="#000" stroke-width="0.35" text-anchor="middle">40</text>
<text transform="translate(210.40,190.60) rotate(-90)" x="0" y="3.04" font-size="8.5" font-weight="bold" fill="#000" stroke="#000" stroke-width="0.35" text-anchor="middle">50</text>
<text x="227.20" y="201.70" font-size="10.1" font-weight="bold" fill="#000" stroke="#000" stroke-width="0.35" text-anchor="start" textLength="80.2" lengthAdjust="spacingAndGlyphs" >New York (Cell 2)</text>
<text x="255.10" y="337.70" font-size="10.1" font-weight="bold" fill="#000" stroke="#000" stroke-width="0.35" text-anchor="start" textLength="75" lengthAdjust="spacingAndGlyphs" >Landsat LST (°C)</text>
<text transform="translate(200.60,248.00) rotate(-90)" x="0" y="0.00" font-size="10.2" font-weight="bold" fill="#000" stroke="#000" stroke-width="0.35" text-anchor="middle" textLength="108.6" lengthAdjust="spacingAndGlyphs">SiB2 or MODIS LST (°C)</text>
<line x1="231.40" y1="289.50" x2="313.60" y2="226.60" stroke="#4a8a7a" stroke-width="1.15"/>
<line x1="231.40" y1="290.00" x2="313.60" y2="227.00" stroke="#b8806a" stroke-width="1.0"/>
<line x1="231.40" y1="289.70" x2="313.60" y2="226.80" stroke="#62924c" stroke-width="1.0"/>
<line x1="231.40" y1="291.80" x2="314.00" y2="246.70" stroke="#8a5cb4" stroke-width="1.0"/>
<g filter="url(#m)">
<path d="M230.60 288.00L233.40 290.60L230.60 293.20L227.80 290.60Z" fill="#3382c4" stroke="#1f5f95" stroke-width="0.4"/>
<path d="M261.40 253.70L264.20 256.30L261.40 258.90L258.60 256.30Z" fill="#3382c4" stroke="#1f5f95" stroke-width="0.4"/>
<path d="M266.30 270.90L269.10 273.50L266.30 276.10L263.50 273.50Z" fill="#3382c4" stroke="#1f5f95" stroke-width="0.4"/>
<path d="M270.20 271.70L273.00 274.30L270.20 276.90L267.40 274.30Z" fill="#3382c4" stroke="#1f5f95" stroke-width="0.4"/>
<path d="M270.70 246.60L273.50 249.20L270.70 251.80L267.90 249.20Z" fill="#3382c4" stroke="#1f5f95" stroke-width="0.4"/>
<path d="M270.50 251.60L273.30 254.20L270.50 256.80L267.70 254.20Z" fill="#3382c4" stroke="#1f5f95" stroke-width="0.4"/>
<path d="M288.90 231.10L291.70 233.70L288.90 236.30L286.10 233.70Z" fill="#3382c4" stroke="#1f5f95" stroke-width="0.4"/>
<path d="M287.20 244.50L290.00 247.10L287.20 249.70L284.40 247.10Z" fill="#3382c4" stroke="#1f5f95" stroke-width="0.4"/>
<path d="M303.40 221.00L306.20 223.60L303.40 226.20L300.60 223.60Z" fill="#3382c4" stroke="#1f5f95" stroke-width="0.4"/>
<path d="M302.70 226.70L305.50 229.30L302.70 231.90L299.90 229.30Z" fill="#3382c4" stroke="#1f5f95" stroke-width="0.4"/>
<path d="M313.30 214.00L316.10 216.60L313.30 219.20L310.50 216.60Z" fill="#3382c4" stroke="#1f5f95" stroke-width="0.4"/>
<path d="M311.90 228.10L314.70 230.70L311.90 233.30L309.10 230.70Z" fill="#3382c4" stroke="#1f5f95" stroke-width="0.4"/>
<path d="M298.40 235.20L301.20 237.80L298.40 240.40L295.60 237.80Z" fill="#3382c4" stroke="#1f5f95" stroke-width="0.4"/>
<path d="M304.80 237.30L307.60 239.90L304.80 242.50L302.00 239.90Z" fill="#3382c4" stroke="#1f5f95" stroke-width="0.4"/>
<path d="M309.70 237.30L312.50 239.90L309.70 242.50L306.90 239.90Z" fill="#3382c4" stroke="#1f5f95" stroke-width="0.4"/>
<rect x="227.85" y="288.35" width="5.50" height="5.50" fill="#b07656" stroke="#9a5040" stroke-width="0.4"/>
<rect x="258.65" y="254.05" width="5.50" height="5.50" fill="#b07656" stroke="#9a5040" stroke-width="0.4"/>
<rect x="263.55" y="271.25" width="5.50" height="5.50" fill="#b07656" stroke="#9a5040" stroke-width="0.4"/>
<rect x="267.45" y="272.05" width="5.50" height="5.50" fill="#b07656" stroke="#9a5040" stroke-width="0.4"/>
<rect x="267.95" y="246.95" width="5.50" height="5.50" fill="#b07656" stroke="#9a5040" stroke-width="0.4"/>
<rect x="267.75" y="251.95" width="5.50" height="5.50" fill="#b07656" stroke="#9a5040" stroke-width="0.4"/>
<rect x="286.15" y="231.45" width="5.50" height="5.50" fill="#b07656" stroke="#9a5040" stroke-width="0.4"/>
<rect x="284.45" y="244.85" width="5.50" height="5.50" fill="#b07656" stroke="#9a5040" stroke-width="0.4"/>
<rect x="300.65" y="221.35" width="5.50" height="5.50" fill="#b07656" stroke="#9a5040" stroke-width="0.4"/>
<rect x="299.95" y="227.05" width="5.50" height="5.50" fill="#b07656" stroke="#9a5040" stroke-width="0.4"/>
<rect x="310.55" y="214.35" width="5.50" height="5.50" fill="#b07656" stroke="#9a5040" stroke-width="0.4"/>
<rect x="309.15" y="228.45" width="5.50" height="5.50" fill="#b07656" stroke="#9a5040" stroke-width="0.4"/>
<rect x="295.65" y="235.55" width="5.50" height="5.50" fill="#b07656" stroke="#9a5040" stroke-width="0.4"/>
<rect x="302.05" y="237.65" width="5.50" height="5.50" fill="#b07656" stroke="#9a5040" stroke-width="0.4"/>
<rect x="306.95" y="237.65" width="5.50" height="5.50" fill="#b07656" stroke="#9a5040" stroke-width="0.4"/>
<path d="M230.60 288.60L233.60 294.20L227.60 294.20Z" fill="#a0b555"/>
<path d="M261.40 254.30L264.40 259.90L258.40 259.90Z" fill="#a0b555"/>
<path d="M266.30 271.50L269.30 277.10L263.30 277.10Z" fill="#a0b555"/>
<path d="M270.20 272.30L273.20 277.90L267.20 277.90Z" fill="#a0b555"/>
<path d="M270.70 247.20L273.70 252.80L267.70 252.80Z" fill="#a0b555"/>
<path d="M270.50 252.20L273.50 257.80L267.50 257.80Z" fill="#a0b555"/>
<path d="M288.90 231.70L291.90 237.30L285.90 237.30Z" fill="#a0b555"/>
<path d="M287.20 245.10L290.20 250.70L284.20 250.70Z" fill="#a0b555"/>
<path d="M303.40 221.60L306.40 227.20L300.40 227.20Z" fill="#a0b555"/>
<path d="M302.70 227.30L305.70 232.90L299.70 232.90Z" fill="#a0b555"/>
<path d="M313.30 214.60L316.30 220.20L310.30 220.20Z" fill="#a0b555"/>
<path d="M311.90 228.70L314.90 234.30L308.90 234.30Z" fill="#a0b555"/>
<path d="M298.40 235.80L301.40 241.40L295.40 241.40Z" fill="#a0b555"/>
<path d="M304.80 237.90L307.80 243.50L301.80 243.50Z" fill="#a0b555"/>
<path d="M309.70 237.90L312.70 243.50L306.70 243.50Z" fill="#a0b555"/>
<ellipse cx="230.40" cy="296.00" rx="2.0" ry="1.8" fill="#7030a0"/>
<ellipse cx="261.40" cy="272.30" rx="2.0" ry="1.8" fill="#7030a0"/>
<ellipse cx="266.00" cy="277.70" rx="2.0" ry="1.8" fill="#7030a0"/>
<ellipse cx="269.90" cy="279.10" rx="2.0" ry="1.8" fill="#7030a0"/>
<ellipse cx="270.50" cy="265.90" rx="2.0" ry="1.8" fill="#7030a0"/>
<ellipse cx="270.50" cy="266.00" rx="2.0" ry="1.8" fill="#7030a0"/>
<ellipse cx="287.20" cy="251.10" rx="2.0" ry="1.8" fill="#7030a0"/>
<ellipse cx="288.60" cy="261.00" rx="2.0" ry="1.8" fill="#7030a0"/>
<ellipse cx="302.70" cy="242.50" rx="2.0" ry="1.8" fill="#7030a0"/>
<ellipse cx="298.40" cy="250.30" rx="2.0" ry="1.8" fill="#7030a0"/>
<ellipse cx="302.70" cy="252.40" rx="2.0" ry="1.8" fill="#7030a0"/>
<ellipse cx="305.50" cy="252.40" rx="2.0" ry="1.8" fill="#7030a0"/>
<ellipse cx="311.10" cy="252.40" rx="2.0" ry="1.8" fill="#7030a0"/>
<ellipse cx="302.00" cy="256.00" rx="2.0" ry="1.8" fill="#7030a0"/>
<ellipse cx="313.30" cy="257.30" rx="2.0" ry="1.8" fill="#7030a0"/>
</g>
<text x="314.90" y="273.40" font-size="7.8" font-weight="bold" fill="#2e6fa7" stroke="#2e6fa7" stroke-width="0.12" textLength="40.4" lengthAdjust="spacingAndGlyphs">R<tspan font-size="5.0" dy="-2.7">2</tspan><tspan dy="2.7"> = 0.8017</tspan></text>
<text x="314.90" y="283.90" font-size="7.8" font-weight="bold" fill="#3f8a3c" stroke="#3f8a3c" stroke-width="0.12" textLength="40.4" lengthAdjust="spacingAndGlyphs">R<tspan font-size="5.0" dy="-2.7">2</tspan><tspan dy="2.7"> = 0.8005</tspan></text>
<text x="314.90" y="294.50" font-size="7.8" font-weight="bold" fill="#c42828" stroke="#c42828" stroke-width="0.12" textLength="40.4" lengthAdjust="spacingAndGlyphs">R<tspan font-size="5.0" dy="-2.7">2</tspan><tspan dy="2.7"> = 0.7998</tspan></text>
<text x="314.90" y="305.00" font-size="7.8" font-weight="bold" fill="#7030a0" stroke="#7030a0" stroke-width="0.12" textLength="40.4" lengthAdjust="spacingAndGlyphs">R<tspan font-size="5.0" dy="-2.7">2</tspan><tspan dy="2.7"> = 0.8092</tspan></text>
<path d="M400.90 210.10L403.20 212.60L400.90 215.10L398.60 212.60Z" fill="#3382c4" stroke="#1f5f95" stroke-width="0.4"/>
<rect x="399.0" y="239.4" width="4.7" height="4.7" fill="#c0504d"/>
<path d="M401.30 268.00L404.10 272.80L398.50 272.80Z" fill="#9bbb59"/>
<ellipse cx="401.40" cy="298.70" rx="1.7" ry="1.8" fill="#7030a0"/>
<text x="408.0" y="214.1" font-size="8.5" font-weight="bold" stroke="#000" stroke-width="0.35" textLength="125" lengthAdjust="spacingAndGlyphs">SiB2 for Scenario <tspan font-style="italic">SiB_MSFC_FrEM</tspan></text>
<text x="409.1" y="243.8" font-size="8.5" font-weight="bold" stroke="#000" stroke-width="0.35" textLength="99" lengthAdjust="spacingAndGlyphs">SiB2 for Scenario <tspan font-style="italic">SiB_FrEm</tspan></text>
<text x="408.7" y="273.3" font-size="8.5" font-weight="bold" stroke="#000" stroke-width="0.35" textLength="88.2" lengthAdjust="spacingAndGlyphs">SiB2 for Scenario <tspan font-style="italic">SiB_Fr</tspan></text>
<text x="409.0" y="300.9" font-size="8.5" font-weight="bold" stroke="#000" stroke-width="0.35" textLength="25.2" lengthAdjust="spacingAndGlyphs">MODIS</text>
</g></svg></body></html>
